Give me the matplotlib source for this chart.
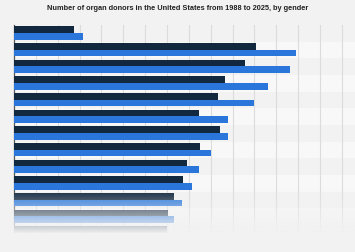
import numpy as np
import matplotlib.pyplot as plt
from matplotlib.colors import to_rgb

# Werte in Tausend (keine Achsenbeschriftung sichtbar, Reihen von oben nach unten)
years = ["2025", "2024", "2023", "2022", "2021", "2020", "2019",
         "2018", "2017", "2016", "2015", "2014", "2013"]
female = [2.74, 11.05, 10.56, 9.66, 9.33, 8.45, 9.42, 8.50, 7.91, 7.74, 7.32, 7.04, 7.00]
male   = [3.15, 12.88, 12.63, 11.63, 10.97, 9.79, 9.79, 9.01, 8.47, 8.14, 7.68, 7.32, 7.21]

BG = "#f2f2f2"
BAND = "#f8f8f8"
DARK = "#12283f"
BLUE = "#2a76da"

W, H = 355, 253
fig = plt.figure(figsize=(W / 100, H / 100), dpi=100, facecolor=BG)

# Achse: links bei x=14, oben bei y=26, unten bei ~243
ax = fig.add_axes([14 / W, 1 - 242.7 / H, 1 - 14 / W, (242.7 - 26) / H])
ax.set_facecolor(BG)

y = np.arange(len(years))

# Streifen abwechselnd
for i in y:
    if i % 2 == 1:
        ax.axhspan(i - 0.5, i + 0.5, color=BAND, lw=0, zorder=0)

# Gitterlinien
for gx in range(1, 16):
    ax.axvline(gx, color="#dcdcdc", lw=0.8, zorder=1)

ax.barh(y - 0.23, female, height=0.4, color=DARK, zorder=3)
ax.barh(y + 0.18, male, height=0.4, color=BLUE, zorder=3)

ax.set_xlim(0, 15.6)
ax.set_ylim(len(years) - 0.5, -0.5)
ax.set_xticks([])
ax.set_yticks([])
for s in ["top", "right", "bottom"]:
    ax.spines[s].set_visible(False)
ax.spines["left"].set_color("#555555")
ax.spines["left"].set_linewidth(0.9)

# Ausblenden nach unten (Verlauf zur Hintergrundfarbe)
y0, y1 = 190, 235
grad = np.zeros((100, 1, 4))
grad[..., :3] = to_rgb(BG)
grad[:, 0, 3] = np.linspace(0, 1, 100)  # oben 0, unten 1
ov = fig.add_axes([0, 1 - y1 / H, 1, (y1 - y0) / H], zorder=10)
ov.imshow(grad, aspect="auto", origin="upper", extent=[0, 1, 0, 1],
          interpolation="bilinear")
ov.set_xlim(0, 1)
ov.set_ylim(0, 1)
ov.axis("off")
low = fig.add_axes([0, 0, 1, 1 - y1 / H + 0.002], zorder=10)
low.axis("off")
low.add_patch(plt.Rectangle((0, 0), 1, 1, color=BG, transform=low.transAxes,
                            clip_on=False))

fig.text(0.5, 1 - 8 / H, "Number of organ donors in the United States from 1988 to 2025, by gender",
         ha="center", va="center", fontsize=5.3, fontweight="bold",
         family=["Liberation Sans", "DejaVu Sans"], color="#222222")

fig.savefig("out.png", dpi=100, facecolor=BG)
